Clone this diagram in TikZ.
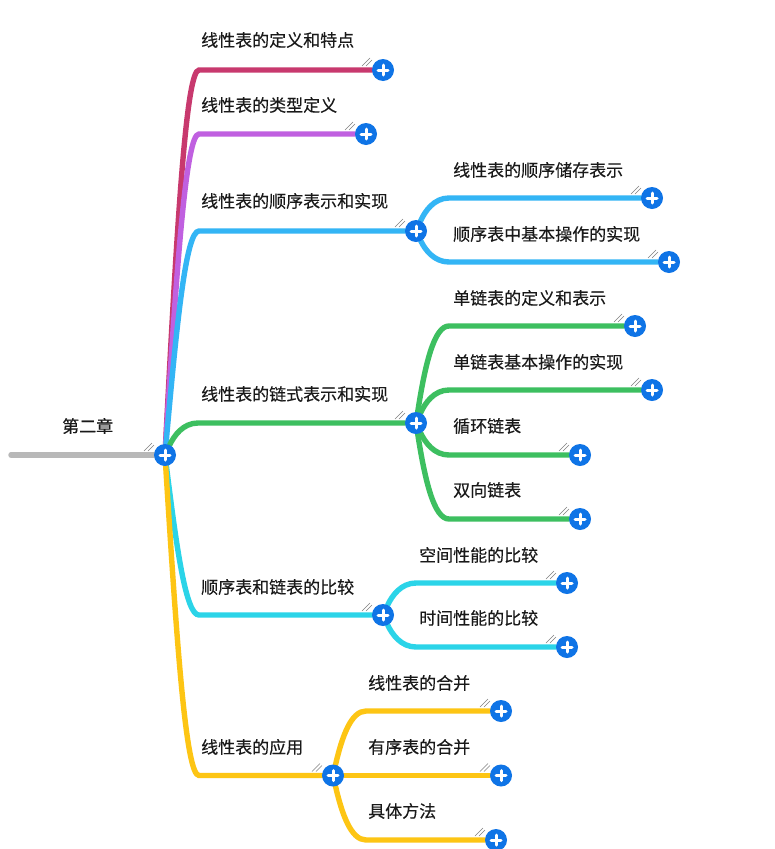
\documentclass[tikz,border=0pt]{standalone}
\usepackage{fontspec}
\setmainfont[FakeBold=0.25]{Noto Sans CJK SC}
\usetikzlibrary{calc,backgrounds}
\definecolor{redline}{HTML}{C8396E}
\definecolor{purpleline}{HTML}{C060E0}
\definecolor{blueline}{HTML}{33B5F5}
\definecolor{greenline}{HTML}{3DBF60}
\definecolor{cyanline}{HTML}{2BD4E8}
\definecolor{yellowline}{HTML}{FDC514}
\definecolor{btnblue}{HTML}{0F74E6}
\tikzset{
  branch/.style={line width=5.4pt,line cap=round},
  btn/.style={circle,fill=btnblue,minimum size=22pt,inner sep=0pt,
    path picture={
      \draw[white,line width=3pt,line cap=round] (path picture bounding box.center) +(-5,0) -- +(5,0)
        (path picture bounding box.center) +(0,-5) -- +(0,5);
    }},
  lbl/.style={anchor=west,inner sep=0pt,text=black!90,font=\fontsize{17}{20}\selectfont},
  tick/.style={draw=black!50,line width=0.5pt}
}
% short fork from a button to a child button
\newcommand{\fork}[3]{\draw[branch,#1] (#2) .. controls ($(#2)!0.6!(#2 |- #3)+(9,0)$) and ($(#2 |- #3)+(18,0)$) .. ($(#2 |- #3)+(33,0)$) -- (#3);}
% long branch off the root
\newcommand{\trunk}[2]{\draw[branch,#1] (root) .. controls ($(root)!0.6!(root |- #2)+(12,0)$) and ($(root |- #2)+(21,0)$) .. ($(root |- #2)+(34,0)$) -- (#2);}
\begin{document}
\begin{tikzpicture}[x=1pt,y=-1pt]
  \useasboundingbox (0,0) rectangle (775,849);
  % buttons
  \coordinate (rootend) at (11,455);
  \node[btn] (root) at (165,455) {};
  \node[btn] (n1) at (383,70) {};
  \node[btn] (n2) at (366,134) {};
  \node[btn] (n3) at (416,231) {};
  \node[btn] (n31) at (652,198) {};
  \node[btn] (n32) at (669,262) {};
  \node[btn] (n4) at (416,423) {};
  \node[btn] (n41) at (635,326) {};
  \node[btn] (n42) at (652,390) {};
  \node[btn] (n43) at (580,455) {};
  \node[btn] (n44) at (580,519) {};
  \node[btn] (n5) at (383,615) {};
  \node[btn] (n51) at (567,583) {};
  \node[btn] (n52) at (567,647) {};
  \node[btn] (n6) at (333,775.5) {};
  \node[btn] (n61) at (501,711) {};
  \node[btn] (n62) at (501,775.5) {};
  \node[btn] (n63) at (496,840) {};
  % connectors
  \begin{scope}[on background layer]
    \fill[white] (0,0) rectangle (775,849);
    \draw[branch,black!28] (rootend) -- (root);
    \trunk{redline}{n1}
    \trunk{purpleline}{n2}
    \trunk{blueline}{n3}
    \fork{greenline}{root}{n4}
    \trunk{cyanline}{n5}
    \trunk{yellowline}{n6}
    \fork{blueline}{n3}{n31}
    \fork{blueline}{n3}{n32}
    \fork{greenline}{n4}{n41}
    \fork{greenline}{n4}{n42}
    \fork{greenline}{n4}{n43}
    \fork{greenline}{n4}{n44}
    \fork{cyanline}{n5}{n51}
    \fork{cyanline}{n5}{n52}
    \fork{yellowline}{n6}{n61}
    \draw[branch,yellowline] (n6) -- (n62);
    \fork{yellowline}{n6}{n63}
  \end{scope}
  \foreach \n in {root,n1,n2,n3,n31,n32,n4,n41,n42,n43,n44,n5,n51,n52,n6,n61,n62,n63}{
    \draw[tick] ($(\n)+(-21,-4)$) -- +(8,-8);
    \draw[tick] ($(\n)+(-17,-4)$) -- +(6,-6);
  }
  % labels
  \node[lbl] (t0) at (62,426) {第二章};
  \node[lbl] (t1) at (201,40) {线性表的定义和特点};
  \node[lbl] (t2) at (201,105) {线性表的类型定义};
  \node[lbl] (t3) at (201,201) {线性表的顺序表示和实现};
  \node[lbl] (t31) at (453,170) {线性表的顺序储存表示};
  \node[lbl] (t32) at (453,234) {顺序表中基本操作的实现};
  \node[lbl] (t4) at (201,394) {线性表的链式表示和实现};
  \node[lbl] (t41) at (453,298) {单链表的定义和表示};
  \node[lbl] (t42) at (453,362) {单链表基本操作的实现};
  \node[lbl] (t43) at (453,426) {循环链表};
  \node[lbl] (t44) at (453,490) {双向链表};
  \node[lbl] (t5) at (201,587) {顺序表和链表的比较};
  \node[lbl] (t51) at (419,555) {空间性能的比较};
  \node[lbl] (t52) at (419,618) {时间性能的比较};
  \node[lbl] (t6) at (201,747) {线性表的应用};
  \node[lbl] (t61) at (368,683) {线性表的合并};
  \node[lbl] (t62) at (368,747) {有序表的合并};
  \node[lbl] (t63) at (368,811) {具体方法};
\end{tikzpicture}
\end{document}
